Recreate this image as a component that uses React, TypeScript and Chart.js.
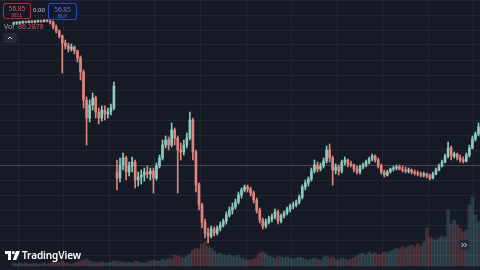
import React, { useEffect, useRef } from "react";
import { Chart, registerables } from "chart.js";
Chart.register(...registerables);

// OHLC prices (one candle per slot)
const openP = [
  79.2,79.4,79.4,79.5,79.6,79.5,79.7,79.6,79.7,79.8,79.7,79.9,
  79.8,79.6,78.6,77.8,76.8,75.4,74.8,74.2,74.6,73.8,72.4,69.6,64.0,60.4,63.0,64.4,61.6,60.4,62.0,61.2,61.6,62.4,
  49.6,48.4,51.0,52.4,49.6,50.8,51.6,48.0,48.6,49.0,49.6,49.2,49.8,48.4,
  50.8,52.4,55.0,56.0,55.0,58.0,56.4,54.0,53.6,55.0,56.4,60.0,
  53.6,47.0,43.0,39.6,37.4,36.8,38.2,37.4,38.4,39.0,39.8,41.0,42.0,42.6,43.6,45.0,
  46.0,46.6,46.2,45.4,44.0,42.0,40.0,38.8,39.6,40.2,40.6,41.6,39.8,40.8,41.4,42.2,42.8,43.0,43.6,
  44.6,46.6,47.4,48.2,49.8,51.0,50.2,50.8,51.8,54.0,52.4,50.0,50.6,49.8,51.6,52.0,
  51.2,51.0,50.2,49.6,50.6,51.0,51.6,52.2,52.8,52.0,50.8,49.6,49.0,49.6,
  50.2,50.4,50.6,50.2,50.0,49.8,50.0,49.6,49.4,49.2,49.0,49.2,48.8,
  48.4,49.2,50.0,50.8,51.6,52.8,54.4,52.8,53.2,52.4,52.0,51.8,53.0,54.4,56.2,57.2,
];
const highP = [
  79.6,79.6,79.7,79.8,79.8,79.9,79.9,79.9,80.0,80.0,80.1,80.1,
  80.0,79.8,79.0,78.0,77.0,76.0,75.4,75.2,74.8,74.0,72.8,70.0,64.6,64.0,65.4,64.8,62.4,62.8,62.8,62.4,63.2,67.6,
  52.0,52.4,53.4,52.8,51.6,52.6,52.0,49.6,50.0,50.4,50.8,50.4,50.4,51.4,
  53.0,56.0,56.8,56.6,59.4,58.4,56.8,55.4,56.0,57.4,61.6,60.4,
  54.0,47.4,43.4,40.2,38.4,38.8,38.6,38.8,39.6,40.2,41.6,42.6,43.4,44.2,45.6,46.4,
  47.0,47.0,46.6,45.8,44.4,42.4,40.4,40.2,40.8,41.2,42.2,42.0,41.2,41.8,42.6,43.2,43.6,44.0,45.0,
  47.0,48.0,48.6,50.4,52.0,51.6,51.4,52.4,54.8,55.2,52.8,51.2,51.0,52.0,52.6,52.2,
  51.8,51.2,50.8,51.0,51.4,52.0,52.6,53.2,53.0,52.4,51.2,50.0,50.0,50.4,
  50.8,51.0,51.0,50.8,50.6,50.4,50.2,50.0,49.8,49.6,49.6,49.4,49.2,
  49.6,50.4,51.2,52.0,53.2,55.6,54.8,53.6,53.4,53.0,52.6,53.4,55.0,56.8,57.6,59.4,
];
const lowP = [
  79.0,79.1,79.2,79.3,79.4,79.4,79.4,79.4,79.5,79.5,79.6,79.6,
  79.2,78.2,77.4,76.4,69.4,74.2,73.6,73.8,73.2,71.6,68.0,62.4,55.0,59.6,62.0,60.4,59.2,59.8,60.0,60.4,61.0,62.0,
  46.0,47.6,50.0,48.0,48.8,49.6,46.4,46.8,47.2,47.8,48.4,48.0,45.4,48.0,
  50.4,52.0,54.4,54.0,54.6,55.0,45.4,52.0,53.0,54.4,56.0,52.0,
  45.6,42.0,38.4,36.4,35.4,36.4,36.8,37.0,37.8,38.6,39.2,40.6,41.2,42.2,43.2,44.4,
  45.6,45.6,44.8,43.4,41.4,39.4,38.2,38.4,39.2,39.6,40.2,39.2,39.4,40.4,41.0,41.6,42.2,42.6,43.2,
  44.2,46.0,46.8,47.8,49.4,49.6,49.8,50.4,51.4,51.6,47.0,49.2,49.0,49.4,51.0,50.6,
  50.6,49.6,49.2,49.2,50.2,50.6,51.2,51.8,51.6,50.4,49.2,48.6,48.8,49.4,
  49.8,50.0,50.0,49.6,49.4,49.4,49.2,49.0,48.8,48.6,48.6,48.4,48.0,
  48.2,49.0,49.8,50.6,51.4,52.4,52.0,52.4,52.0,51.6,51.4,51.6,52.6,54.2,55.8,56.8,
];
const closeP = [
  79.4,79.4,79.5,79.6,79.5,79.7,79.6,79.7,79.8,79.7,79.9,79.8,
  79.6,78.6,77.8,76.8,75.4,74.8,74.2,74.6,73.8,72.4,69.6,64.0,60.4,63.0,64.4,61.6,60.4,62.0,61.2,61.6,62.4,66.8,
  48.4,51.0,52.4,49.6,50.8,51.6,48.0,48.6,49.0,49.6,49.2,49.8,48.4,50.8,
  52.4,55.0,56.0,55.0,58.0,56.4,54.0,53.6,55.0,56.4,60.0,53.6,
  47.0,43.0,39.6,37.4,36.8,38.2,37.4,38.4,39.0,39.8,41.0,42.0,42.6,43.6,45.0,46.0,
  46.6,46.2,45.4,44.0,42.0,40.0,38.8,39.6,40.2,40.6,41.6,39.8,40.8,41.4,42.2,42.8,43.0,43.6,44.6,
  46.6,47.4,48.2,49.8,51.0,50.2,50.8,51.8,54.0,52.4,50.0,50.6,49.8,51.6,52.0,51.2,
  51.0,50.2,49.6,50.6,51.0,51.6,52.2,52.8,52.0,50.8,49.6,49.0,49.6,50.2,
  50.4,50.6,50.2,50.0,49.8,50.0,49.6,49.4,49.2,49.0,49.2,48.8,48.4,
  49.2,50.0,50.8,51.6,52.8,54.4,52.8,53.2,52.4,52.0,51.8,53.0,54.4,56.2,57.2,58.6,
];
const volume = [
  3,2,3,2,3,2,2,3,2,2,3,2,3,
  4,3,4,5,3,3,2,3,4,
  5,6,7,5,4,4,3,4,3,3,4,5,
  5,4,4,3,4,3,5,4,3,3,4,5,6,5,
  5,7,6,8,7,11,10,9,8,10,
  12,16,18,17,22,24,20,
  18,15,12,13,11,10,11,10,9,11,8,
  7,6,6,7,9,13,14,
  12,10,9,8,10,9,8,9,8,7,8,9,
  8,7,6,7,8,7,6,9,10,8,9,7,6,8,7,6,
  7,8,10,12,13,11,14,12,13,11,12,14,13,15,
  16,18,17,19,18,20,21,19,22,20,24,38,29,
  27,26,28,30,29,56,42,46,
  41,38,34,36,61,69,51,44,
];
// 5-minute time slots (4 empty slots before the first candle)
const LEAD = 4;
const timeLabels = Array.from({ length: closeP.length + LEAD }, (_, i) => {
  const m = 8 * 60 + i * 5;
  return `${String(Math.floor(m / 60)).padStart(2, "0")}:${String(m % 60).padStart(2, "0")}`;
});

const BG = "#161a25";
const GRID = "#222634";
const UP = "#8ccabe";
const DOWN = "#de867e";

export default function App() {
  const ref = useRef<HTMLCanvasElement>(null);
  useEffect(() => {
    document.body.style.margin = "0";
    document.body.style.background = BG;
    const isUp = closeP.map((c, i) => c >= openP[i]);
    const candleColors = isUp.map((u) => (u ? UP : DOWN));
    const volColors = isUp.map((u) => (u ? "rgba(100,150,150,0.26)" : "rgba(190,100,105,0.26)"));
    const chart = new Chart(ref.current!, {
      type: "bar",
      data: {
        labels: timeLabels,
        datasets: [
          {
            label: "body",
            data: openP.map((o, i) => ({ x: timeLabels[i + LEAD], y: [o, closeP[i]] })) as any,
            backgroundColor: candleColors,
            barThickness: 2,
            minBarLength: 1,
            grouped: false,
            yAxisID: "y",
            order: 1,
          } as any,
          {
            label: "wick",
            data: lowP.map((l, i) => ({ x: timeLabels[i + LEAD], y: [l, highP[i]] })) as any,
            backgroundColor: candleColors,
            barThickness: 1,
            grouped: false,
            yAxisID: "y",
            order: 2,
          } as any,
          {
            label: "volume",
            data: volume.map((v, i) => ({ x: timeLabels[i + LEAD], y: v })) as any,
            backgroundColor: volColors,
            barPercentage: 1,
            categoryPercentage: 1,
            grouped: false,
            yAxisID: "v",
            order: 3,
          } as any,
        ],
      },
      options: {
        animation: false,
        responsive: false,
        events: [],
        layout: { padding: 0 },
        plugins: { legend: { display: false }, tooltip: { enabled: false } },
        scales: {
          x: {
            type: "category",
            offset: true,
            border: { display: false },
            ticks: { display: false, autoSkip: false, padding: 0 },
            afterFit: (s: any) => { s.height = 0; },
            grid: {
              offset: true,
              drawTicks: false,
              color: (ctx: any) => (ctx.index % 15 === 6 ? GRID : "rgba(0,0,0,0)"),
            },
          },
          y: {
            type: "linear",
            min: 30,
            max: 84,
            position: "right",
            border: { display: false },
            ticks: { display: false, stepSize: 3, padding: 0 },
            afterFit: (s: any) => { s.width = 0; },
            grid: {
              drawTicks: false,
              color: (ctx: any) => (ctx.tick && ctx.tick.value === 51 ? "rgba(120,100,125,0.55)" : GRID),
            },
          },
          v: {
            type: "linear",
            min: -4,
            max: 266,
            display: false,
          },
        },
      } as any,
    });
    return () => chart.destroy();
  }, []);

  const font = "'Noto Sans', 'DejaVu Sans', sans-serif";
  return (
    <div style={{ position: "fixed", left: 0, top: 0, width: 480, height: 270, background: BG, overflow: "hidden", fontFamily: font }}>
      <canvas ref={ref} width={480} height={270} style={{ position: "absolute", left: 0, top: 0, width: 480, height: 270 }} />
      {/* SELL box */}
      <div style={{ position: "absolute", left: 3, top: 3, width: 26, height: 14, border: "1px solid rgba(242,54,69,0.7)", borderRadius: 3, background: "rgba(22,26,37,0.9)", color: "#e25662", textAlign: "center" }}>
        <div style={{ fontSize: 6.5, lineHeight: "7px", marginTop: 1 }}>56.85</div>
        <div style={{ fontSize: 5, lineHeight: "6px" }}>SELL</div>
      </div>
      <div style={{ position: "absolute", left: 33, top: 7, fontSize: 6, lineHeight: "7px", color: "#c9ccd4" }}>0.00</div>
      {/* BUY box */}
      <div style={{ position: "absolute", left: 48, top: 3, width: 27, height: 15, border: "1px solid rgba(41,98,255,0.75)", borderRadius: 3, background: "rgba(22,26,37,0.9)", color: "#5a7cf0", textAlign: "center" }}>
        <div style={{ fontSize: 6.5, lineHeight: "7px", marginTop: 1.5 }}>56.85</div>
        <div style={{ fontSize: 5, lineHeight: "6px" }}>BUY</div>
      </div>
      {/* Vol label */}
      <div style={{ position: "absolute", left: 4, top: 23, fontSize: 7, lineHeight: "8px", color: "#a3a6af", whiteSpace: "nowrap" }}>
        Vol <span style={{ color: "#d0595f", marginLeft: 2 }}>86.2878</span>
      </div>
      {/* collapse button */}
      <div style={{ position: "absolute", left: 3, top: 33, width: 14, height: 10, background: "#262a36", borderRadius: 2 }}>
        <svg width="14" height="10" viewBox="0 0 14 10" style={{ display: "block" }}>
          <path d="M5 6 L7 4 L9 6" stroke="#d1d4dc" strokeWidth="1" fill="none" />
        </svg>
      </div>
      {/* TradingView logo */}
      <div style={{ position: "absolute", left: 5, top: 249, display: "flex", alignItems: "center", color: "#ffffff" }}>
        <svg width="15" height="9" viewBox="0 0 15 9" style={{ display: "block", marginRight: 2 }}>
          <path d="M0 0 H6 V9 H3 V3 H0 Z" fill="#ffffff" />
          <circle cx="8.3" cy="1.6" r="1.6" fill="#ffffff" />
          <path d="M11 0 H15 L11.2 9 H7.8 Z" fill="#ffffff" />
        </svg>
        <span style={{ fontSize: 10, fontWeight: 600, lineHeight: "12px", letterSpacing: -0.1 }}>TradingView</span>
      </div>
      {/* scroll-to-end button */}
      <div style={{ position: "absolute", left: 459, top: 240, width: 10, height: 10, background: "#262a36", borderRadius: 2 }}>
        <svg width="10" height="10" viewBox="0 0 10 10" style={{ display: "block" }}>
          <path d="M2.5 3 L4.5 5 L2.5 7 M5.5 3 L7.5 5 L5.5 7" stroke="#d1d4dc" strokeWidth="1" fill="none" />
        </svg>
      </div>
    </div>
  );
}
